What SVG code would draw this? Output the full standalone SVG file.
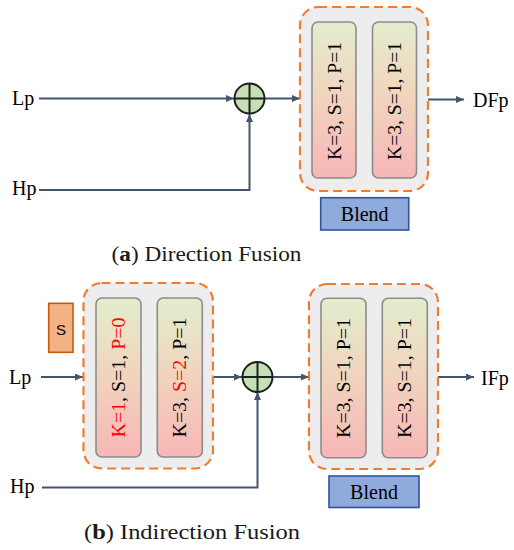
<svg xmlns="http://www.w3.org/2000/svg" width="514" height="550" viewBox="0 0 514 550">
<style>
.lbl{font-family:"Liberation Serif","Times New Roman",serif;font-size:20px;fill:#000}
.cap{font-family:"Liberation Serif","Times New Roman",serif;font-size:20px;fill:#1a1a1a}
.conv{font-family:"Liberation Serif","Times New Roman",serif;font-size:18px;fill:#000}
.red{fill:#ff0000}
.outer{fill:#ededed;stroke:#ed7d31;stroke-width:2.2;stroke-dasharray:9 5}
.inner{fill:url(#g);stroke:#8c8c8c;stroke-width:1.6}
.blend{fill:#8faadc;stroke:#2f5597;stroke-width:1.6}
.sum{fill:#c5e0b4;stroke:#1f1f1f;stroke-width:2}
.cross{stroke:#1f1f1f;stroke-width:2}
.conn{fill:none;stroke:#44546a;stroke-width:2;marker-end:url(#ah)}
</style>
<defs>
<linearGradient id="g" x1="0" y1="0" x2="0" y2="1">
<stop offset="0" stop-color="#e3edcd"/>
<stop offset="0.5" stop-color="#f1d3bd"/>
<stop offset="1" stop-color="#f7b7b7"/>
</linearGradient>
<marker id="ah" markerUnits="userSpaceOnUse" markerWidth="9" markerHeight="8" refX="8" refY="3.5" orient="auto">
<path d="M0,0 L8,3.5 L0,7 z" fill="#44546a"/>
</marker>
</defs>
<rect width="514" height="550" fill="#fff"/>

<g id="connectors">
<path class="conn" d="M39,98.5 H234"/>
<path class="conn" d="M39,190 H249.5 V114"/>
<path class="conn" d="M265,98.5 H300"/>
<path class="conn" d="M428,99.5 H464"/>
<path class="conn" d="M41,377 H83"/>
<path class="conn" d="M213,377 H242"/>
<path class="conn" d="M42,487.5 H257.5 V392"/>
<path class="conn" d="M273,377 H309"/>
<path class="conn" d="M438,377 H474"/>
</g>

<g id="label-lp-a"><text class="lbl" x="12" y="105">Lp</text></g>
<g id="label-hp-a"><text class="lbl" x="12" y="195">Hp</text></g>
<g id="sum-a">
<circle class="sum" cx="249.5" cy="98.5" r="15"/>
<line class="cross" x1="234.5" y1="98.5" x2="264.5" y2="98.5"/>
<line class="cross" x1="249.5" y1="83.5" x2="249.5" y2="113.5"/>
</g>
<g id="block-a">
<rect class="outer" x="300" y="7" width="128" height="184" rx="18"/>
<rect class="inner" x="312" y="22" width="44" height="156" rx="6"/>
<rect class="inner" x="372.5" y="22" width="44" height="156" rx="6"/>
<text class="conv" transform="translate(340.5,101) rotate(-90)" text-anchor="middle" textLength="118" lengthAdjust="spacingAndGlyphs">K=3, S=1, P=1</text>
<text class="conv" transform="translate(401,101) rotate(-90)" text-anchor="middle" textLength="118" lengthAdjust="spacingAndGlyphs">K=3, S=1, P=1</text>
</g>
<g id="blend-a">
<rect class="blend" x="320.7" y="197.7" width="88" height="32.3"/>
<text class="lbl" x="364.7" y="221" text-anchor="middle">Blend</text>
</g>
<g id="label-dfp"><text class="lbl" x="473" y="107">DFp</text></g>
<g id="caption-a"><text class="cap" x="111.5" y="261" textLength="190" lengthAdjust="spacingAndGlyphs">(<tspan font-weight="bold">a</tspan>) Direction Fusion</text></g>

<g id="s-box">
<rect x="48.7" y="303.3" width="24.3" height="49" fill="#f4b183" stroke="#c55a11" stroke-width="1.6"/>
<text x="61" y="335" text-anchor="middle" font-family="'Liberation Sans',Arial,sans-serif" font-size="15" fill="#000">S</text>
</g>
<g id="label-lp-b"><text class="lbl" x="9" y="383.5">Lp</text></g>
<g id="label-hp-b"><text class="lbl" x="10" y="493">Hp</text></g>
<g id="block-b1">
<rect class="outer" x="83.5" y="283" width="129.5" height="185.5" rx="18"/>
<rect class="inner" x="96" y="298" width="45" height="159" rx="6"/>
<rect class="inner" x="157.3" y="298" width="45" height="159" rx="6"/>
<text class="conv" transform="translate(125,377.5) rotate(-90)" text-anchor="middle" textLength="120" lengthAdjust="spacingAndGlyphs"><tspan class="red">K=1</tspan>, S=1, <tspan class="red">P=0</tspan></text>
<text class="conv" transform="translate(186,377.5) rotate(-90)" text-anchor="middle" textLength="120" lengthAdjust="spacingAndGlyphs">K=3, <tspan class="red">S=2</tspan>, P=1</text>
</g>
<g id="sum-b">
<circle class="sum" cx="257.5" cy="377" r="15"/>
<line class="cross" x1="242.5" y1="377" x2="272.5" y2="377"/>
<line class="cross" x1="257.5" y1="362" x2="257.5" y2="392"/>
</g>
<g id="block-b2">
<rect class="outer" x="309" y="284" width="129" height="185" rx="18"/>
<rect class="inner" x="321" y="298.3" width="45" height="159.4" rx="6"/>
<rect class="inner" x="382.3" y="298.3" width="45" height="159.4" rx="6"/>
<text class="conv" transform="translate(349.5,378) rotate(-90)" text-anchor="middle" textLength="120" lengthAdjust="spacingAndGlyphs">K=3, S=1, P=1</text>
<text class="conv" transform="translate(411,378) rotate(-90)" text-anchor="middle" textLength="120" lengthAdjust="spacingAndGlyphs">K=3, S=1, P=1</text>
</g>
<g id="blend-b">
<rect class="blend" x="329" y="476" width="90" height="31.5"/>
<text class="lbl" x="374" y="499" text-anchor="middle">Blend</text>
</g>
<g id="label-ifp"><text class="lbl" x="481" y="385">IFp</text></g>
<g id="caption-b"><text class="cap" x="84" y="538.5" textLength="216" lengthAdjust="spacingAndGlyphs">(<tspan font-weight="bold">b</tspan>) Indirection Fusion</text></g>
</svg>
